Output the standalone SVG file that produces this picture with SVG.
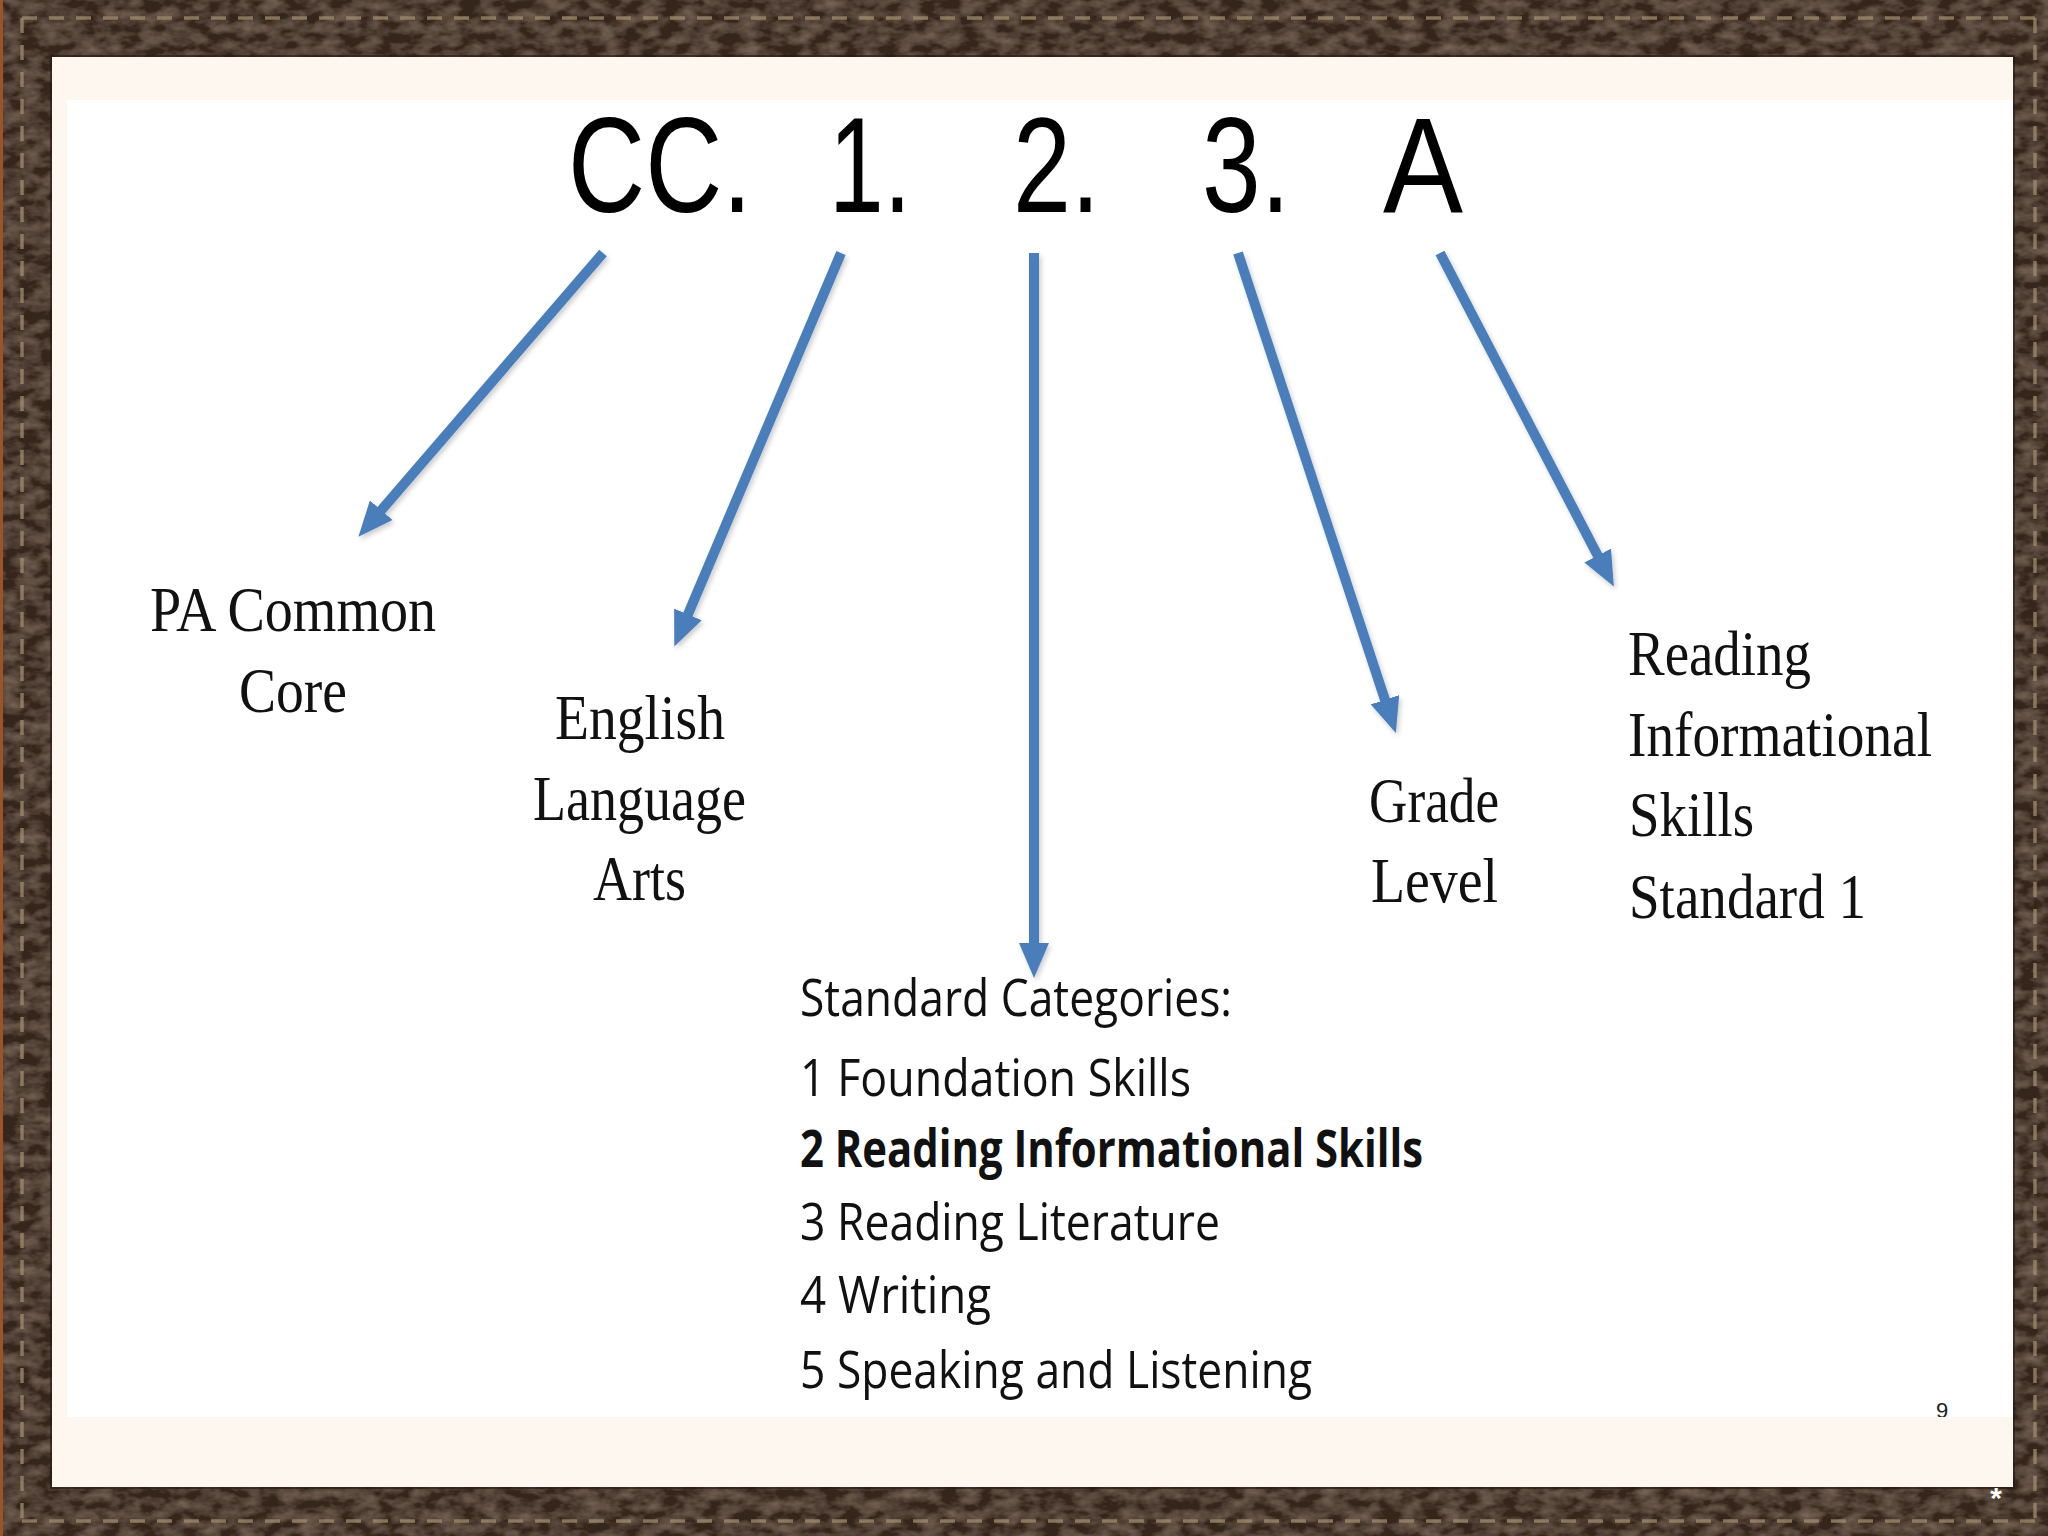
<svg xmlns="http://www.w3.org/2000/svg" width="2048" height="1536" viewBox="0 0 2048 1536">
  <defs>
    <style>
      .stitch { fill: none; stroke: #a08c6e; stroke-width: 3.5; stroke-dasharray: 15 12; opacity: 0.75; }
      .code { font-family: "Liberation Sans", Arial, sans-serif; font-size: 136px; fill: #000; }
      .lbl { font-family: "Liberation Serif", "Times New Roman", serif; font-size: 64px; fill: #111; }
      .cat { font-family: "Open Sans", "Liberation Sans", sans-serif; font-size: 52px; fill: #111; }
      .bold { font-weight: bold; }
      .conn { fill: none; stroke: #4a7ebb; stroke-width: 10; stroke-linecap: butt; marker-end: url(#ah); }
    </style>
    <marker id="ah" markerUnits="userSpaceOnUse" markerWidth="36" markerHeight="30" refX="5" refY="15" orient="auto" viewBox="0 0 36 30">
      <path d="M0,0 L35,15 L0,30 z" fill="#4a7ebb"/>
    </marker>
    <filter id="leather" x="0" y="0" width="100%" height="100%">
      <feTurbulence type="fractalNoise" baseFrequency="0.05 0.09" numOctaves="3" seed="7" result="n"/>
      <feColorMatrix in="n" type="matrix" values="0 0 0 0 0.31  0 0 0 0 0.22  0 0 0 0 0.16  0 0 0 0.9 -0.3" result="c"/>
      <feComposite in="c" in2="SourceGraphic" operator="over"/>
    </filter>
    <filter id="shadow" x="-10%" y="-10%" width="120%" height="120%">
      <feDropShadow dx="2" dy="3" stdDeviation="2.5" flood-color="#000" flood-opacity="0.2"/>
    </filter>
  </defs>

  <!-- frame -->
  <rect x="0" y="0" width="2048" height="1536" fill="#36251b" filter="url(#leather)"/>
  <rect x="0" y="0" width="3" height="1536" fill="#9a5428"/>
  <line class="stitch" x1="22" y1="18" x2="22" y2="1521"/>
  <line class="stitch" x1="22" y1="18" x2="2035" y2="18"/>
  <line class="stitch" x1="2035" y1="18" x2="2035" y2="1521"/>
  <line class="stitch" x1="22" y1="1521" x2="2035" y2="1521"/>

  <!-- slide -->
  <rect x="50" y="55" width="1965" height="1434" fill="#241810" opacity="0.6"/>
  <rect x="52" y="57" width="1961" height="1430" fill="#fdf7f0"/>
  <rect x="67" y="100" width="1946" height="1317" fill="#ffffff"/>
  <text x="1936" y="1418" font-family="Liberation Sans, Arial, sans-serif" font-size="22" fill="#222">9</text>
  <rect x="52" y="1417" width="1961" height="70" fill="#fdf7f0"/>
  <text x="1996" y="1508" text-anchor="middle" font-family="Liberation Sans, Arial, sans-serif" font-size="30" font-weight="bold" fill="#ffffff">*</text>

  <!-- title code -->
  <g id="code">
    <text class="code" x="568" y="212" textLength="184" lengthAdjust="spacingAndGlyphs">CC.</text>
    <text class="code" x="829" y="212" textLength="82" lengthAdjust="spacingAndGlyphs">1.</text>
    <text class="code" x="1013" y="212" textLength="87" lengthAdjust="spacingAndGlyphs">2.</text>
    <text class="code" x="1202" y="212" textLength="88" lengthAdjust="spacingAndGlyphs">3.</text>
    <text class="code" x="1383" y="212" textLength="80" lengthAdjust="spacingAndGlyphs">A</text>
  </g>

  <!-- connectors -->
  <g id="connectors" filter="url(#shadow)">
    <line class="conn" x1="603" y1="253" x2="378" y2="514"/>
    <line class="conn" x1="841" y1="253" x2="686" y2="619"/>
    <line class="conn" x1="1034" y1="253" x2="1034" y2="948"/>
    <line class="conn" x1="1238" y1="253" x2="1386.5" y2="704.5"/>
    <line class="conn" x1="1440" y1="253" x2="1600" y2="560"/>
  </g>

  <g id="pa-common-core">
    <text class="lbl" x="150" y="631" textLength="286" lengthAdjust="spacingAndGlyphs">PA Common</text>
    <text class="lbl" x="239" y="712" textLength="108" lengthAdjust="spacingAndGlyphs">Core</text>
  </g>

  <g id="english-language-arts">
    <text class="lbl" x="555" y="739" textLength="170" lengthAdjust="spacingAndGlyphs">English</text>
    <text class="lbl" x="533" y="820" textLength="213" lengthAdjust="spacingAndGlyphs">Language</text>
    <text class="lbl" x="593" y="900" textLength="93" lengthAdjust="spacingAndGlyphs">Arts</text>
  </g>

  <g id="standard-categories">
    <text class="cat" x="800" y="1016" textLength="432" lengthAdjust="spacingAndGlyphs">Standard Categories:</text>
    <text class="cat" x="800" y="1096" textLength="391" lengthAdjust="spacingAndGlyphs">1 Foundation Skills</text>
    <text class="cat bold" x="800" y="1167" textLength="623" lengthAdjust="spacingAndGlyphs">2 Reading Informational Skills</text>
    <text class="cat" x="800" y="1240" textLength="420" lengthAdjust="spacingAndGlyphs">3 Reading Literature</text>
    <text class="cat" x="800" y="1313" textLength="191" lengthAdjust="spacingAndGlyphs">4 Writing</text>
    <text class="cat" x="800" y="1388" textLength="512" lengthAdjust="spacingAndGlyphs">5 Speaking and Listening</text>
  </g>

  <g id="grade-level">
    <text class="lbl" x="1369" y="822" textLength="130" lengthAdjust="spacingAndGlyphs">Grade</text>
    <text class="lbl" x="1371" y="902" textLength="127" lengthAdjust="spacingAndGlyphs">Level</text>
  </g>

  <g id="reading-informational-standard">
    <text class="lbl" x="1628" y="675" textLength="183" lengthAdjust="spacingAndGlyphs">Reading</text>
    <text class="lbl" x="1628" y="756" textLength="304" lengthAdjust="spacingAndGlyphs">Informational</text>
    <text class="lbl" x="1629" y="836" textLength="125" lengthAdjust="spacingAndGlyphs">Skills</text>
    <text class="lbl" x="1629" y="918" textLength="237" lengthAdjust="spacingAndGlyphs">Standard 1</text>
  </g>
</svg>
